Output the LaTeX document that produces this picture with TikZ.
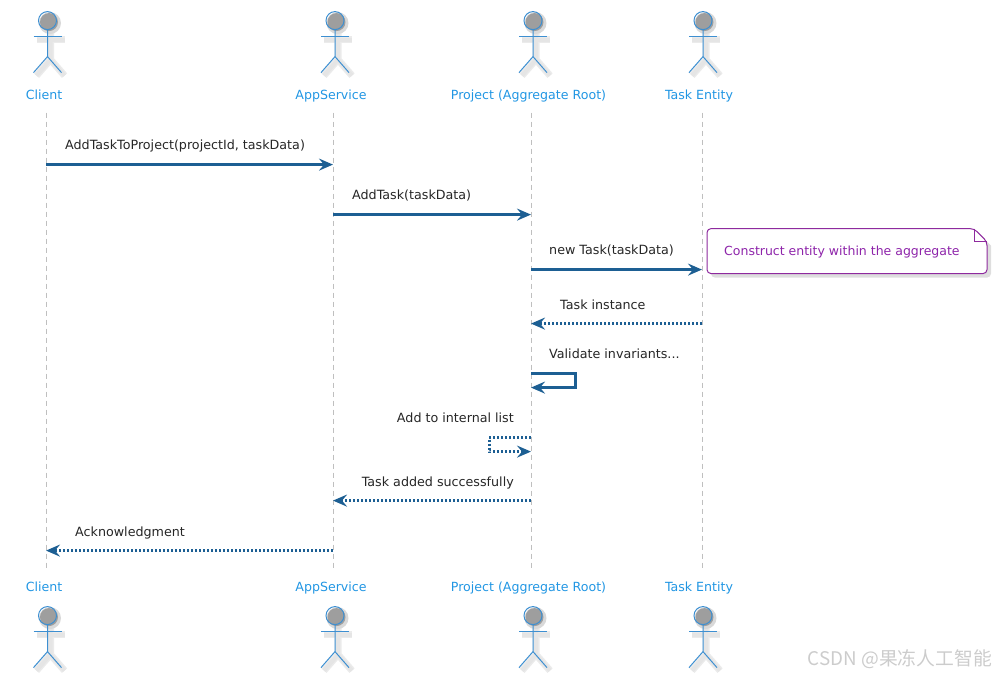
\documentclass[tikz,border=0pt]{standalone}
\usepackage{fontspec}
\setmainfont{DejaVu Sans}
\newfontfamily\wmfont{Noto Sans CJK SC}
\usetikzlibrary{arrows.meta}
\definecolor{actorblue}{HTML}{3D8FD1}
\definecolor{labelblue}{HTML}{2196E3}
\definecolor{msgblue}{HTML}{1D5F93}
\definecolor{notepurple}{HTML}{8E2A9E}
\definecolor{notetext}{HTML}{8E24AA}
\tikzset{
  actorname/.style={anchor=base, inner sep=0pt, text=labelblue, font=\fontsize{12.6}{15}\selectfont},
  lifeline/.style={draw=black!25, dash pattern=on 5pt off 4pt, line width=1pt},
  msg/.style={draw=msgblue, line width=3pt, -{Stealth[length=14pt,width=12pt,inset=5pt]}},
  ret/.style={msg, dash pattern=on 2pt off 2pt},
  msgtext/.style={text=black!85, font=\fontsize{12.7}{15}\selectfont, inner sep=0pt},
  actor/.pic={
    \foreach \w/\o in {7/8,4/10} {
      \draw[line width=\w pt, black!\o, shift={(3,3)}] (-14,16) -- (14,16);
      \draw[line width=\w pt, black!\o, shift={(3,3)}] (0,9) -- (0,36) (-14,52) -- (0,36) -- (14,52);
    }
    \fill[black!15] (2.5,2.5) circle (11);
    \fill[black!38] (1.5,1.5) circle (9);
    \draw[actorblue, line width=1pt] (0,0) circle (9);
    \draw[actorblue, line width=1pt] (-14,16) -- (14,16);
    \draw[actorblue, line width=1pt] (0,9) -- (0,36) (-14,52) -- (0,36) -- (14,52);
  }
}
\begin{document}
\begin{tikzpicture}[x=1pt, y=-1pt]
    \useasboundingbox (0,0) rectangle (996,676);
    \begin{scope}[yshift=-0.6pt]

    % Actors
    \pic at (47.5,20) {actor};
    \pic at (335,20) {actor};
    \pic at (533,20) {actor};
    \pic at (703,20) {actor};
    \pic at (47.5,615) {actor};
    \pic at (335,615) {actor};
    \pic at (533,615) {actor};
    \pic at (703,615) {actor};

    % Define nodes
    \node[actorname] (client)  at (44,99)    {Client};
    \node[actorname] (app)     at (331,99)   {AppService};
    \node[actorname] (project) at (528.5,99) {Project (Aggregate Root)};
    \node[actorname] (task)    at (699,99)   {Task Entity};
    \node[actorname] (client2)  at (44,591)    {Client};
    \node[actorname] (app2)     at (331,591)   {AppService};
    \node[actorname] (project2) at (528.5,591) {Project (Aggregate Root)};
    \node[actorname] (task2)    at (699,591)   {Task Entity};

    % Lifelines
    \coordinate (cT) at (46,112);   \coordinate (cB) at (46,568);
    \coordinate (aT) at (333,112);  \coordinate (aB) at (333,568);
    \coordinate (pT) at (531,112);  \coordinate (pB) at (531,568);
    \coordinate (tT) at (702,112);  \coordinate (tB) at (702,568);
    \draw[lifeline] (cT) -- (cB);
    \draw[lifeline] (aT) -- (aB);
    \draw[lifeline] (pT) -- (pB);
    \draw[lifeline] (tT) -- (tB);

    % Note
    \fill[black!13] (711,232) -- (978,232) -- (991,245) -- (991,273)
        arc[start angle=0, end angle=90, radius=4] -- (715,277)
        arc[start angle=90, end angle=180, radius=4] -- cycle;
    \draw[notepurple, line width=1pt, fill=white, rounded corners=4pt]
        (707,228) -- (974,228) -- (987,241) -- (987,273) -- (707,273) -- cycle;
    \draw[notepurple, line width=1pt] (974,228) -- (974,241) -- (987,241);
    \node[anchor=base west, inner sep=0pt, text=notetext, font=\fontsize{12.5}{15}\selectfont]
        (note) at (724,255.4) {Construct entity within the aggregate};

    % Connect the nodes
    \draw[msg] (cT |- 0,164) -- (aT |- 0,164);
    \draw[msg] (aT |- 0,214) -- (pT |- 0,214);
    \draw[msg] (pT |- 0,269) -- (tT |- 0,269);
    \draw[ret] (tT |- 0,323) -- (pT |- 0,323);
    \draw[msg] (pT |- 0,373) -- (575,373) -- (575,387) -- (pT |- 0,387);
    \draw[ret] (pT |- 0,437) -- (489,437) -- (489,451) -- (pT |- 0,451);
    \draw[ret] (pT |- 0,500) -- (aT |- 0,500);
    \draw[ret] (aT |- 0,550) -- (cT |- 0,550);

    % Message labels
    \node[msgtext, anchor=base west] (m1) at (65,149.4)  {AddTaskToProject(projectId, taskData)};
    \node[msgtext, anchor=base west] (m2) at (352,199.4) {AddTask(taskData)};
    \node[msgtext, anchor=base west] (m3) at (549,254.4) {new Task(taskData)};
    \node[msgtext, anchor=base west] (m4) at (560,308.4) {Task instance};
    \node[msgtext, anchor=base west] (m5) at (549,358.4) {Validate invariants...};
    \node[msgtext, anchor=base east] (m6) at (514,421.5) {Add to internal list};
    \node[msgtext, anchor=base east] (m7) at (514,485.4) {Task added successfully};
    \node[msgtext, anchor=base west] (m8) at (75,535.4)  {Acknowledgment};

    % Watermark
    \node[anchor=base east, inner sep=0pt, text=black!20, font=\wmfont\fontsize{18.8}{20}\selectfont]
        (mark) at (992,664.4) {CSDN @果冻人工智能};

    \end{scope}
\end{tikzpicture}
\end{document}
